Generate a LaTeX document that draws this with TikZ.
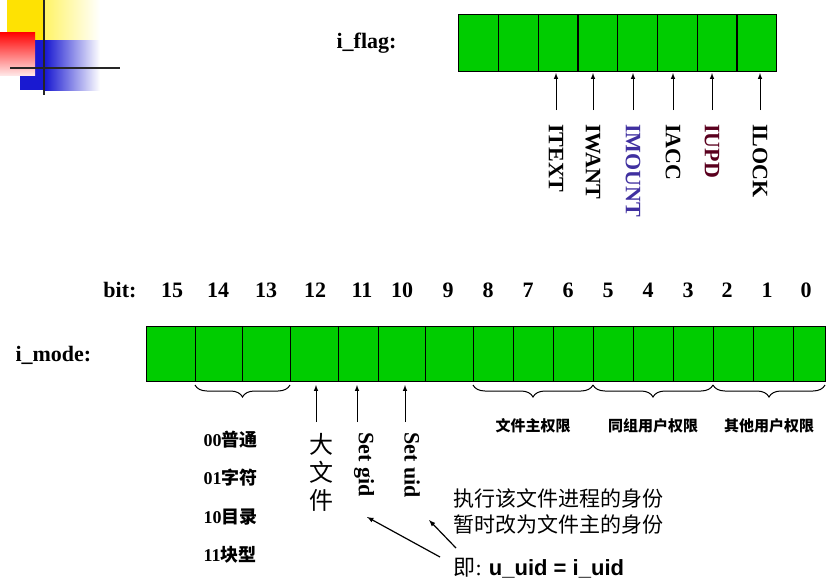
\documentclass[tikz,border=0pt]{standalone}
\usepackage{fontspec}
\setmainfont{Liberation Serif}
\newfontfamily\cjk{Noto Sans CJK SC}
\newfontfamily\sanss{Liberation Sans}
\usetikzlibrary{decorations.pathreplacing}
\definecolor{cellgreen}{RGB}{0,204,0}
\definecolor{imount}{RGB}{64,48,160}
\definecolor{iupd}{RGB}{90,0,30}
\tikzset{
  cell/.style={draw=black,line width=1.4pt,fill=cellgreen,minimum height=55pt,inner sep=0pt,anchor=south west},
  fcell/.style={draw=black,line width=1.4pt,fill=cellgreen,minimum height=57pt,minimum width=39.75pt,inner sep=0pt,anchor=south west},
  bitlab/.style={font=\bfseries\fontsize{22}{24}\selectfont},
  vlab/.style={font=\bfseries\fontsize{22}{24}\selectfont,rotate=-90,anchor=west,inner sep=0pt},
  up/.style={-latex,line width=1pt},
  brc/.style={decorate,decoration={brace,mirror,amplitude=12pt},line width=1pt},
  cn/.style={font=\cjk\bfseries\fontsize{15}{17}\selectfont},
  big/.style={font=\cjk\fontsize{21}{26}\selectfont,align=left,anchor=west}
}
\begin{document}
\begin{tikzpicture}[x=1pt,y=-1pt]
\useasboundingbox (0,0) rectangle (831,582);
% logo
\shade[left color=yellow!85!orange,right color=white] (7,0) rectangle (100,40);
\fill[yellow!85!orange] (7,0) rectangle (45,40);
\shade[left color=blue!80!black!90,right color=white] (45,40) rectangle (100,90);
\fill[blue!80!black!90] (20,40) rectangle (45,90);
\shade[top color=red,bottom color=red!10] (0,32) rectangle (35,75);
\draw[line width=2pt,black!85] (44,0) -- (44,95);
\draw[line width=2pt,black!85] (10,68) -- (120,68);
% i_flag
\node[bitlab,anchor=east] (flaglab) at (400,43) {i\_flag:};
\foreach \i in {0,...,7}{
  \node[fcell] (f\i) at ({458+39.75*\i},72) {};
}
\foreach \c/\x/\t/\col in {2/556/ITEXT/black,3/593/IWANT/black,4/633/IMOUNT/imount,5/673/IACC/black,6/712/IUPD/iupd,7/760/ILOCK/black}{
  \coordinate (fa\c) at (\x,110);
  \draw[up] (fa\c) -- (\x,73);
  \node[vlab,text=\col] (ft\c) at (\x,124) {\t};
}
% bits
\node[bitlab,anchor=east] (bitw) at (140,290) {bit:};
\foreach \b/\x in {15/172,14/218,13/266,12/315,11/362,10/402,9/448,8/488,7/528,6/568,5/608,4/648,3/688,2/727,1/767,0/806}{
  \node[bitlab] (b\b) at (\x,290) {\b};
}
\node[bitlab,anchor=west] (modelab) at (12,355) {i\_mode:};
\foreach \i/\a/\w in {0/146/49,1/195/47,2/242/48,3/290/48,4/338/40,5/378/47,6/425/48,7/473/40,8/513/40,9/553/40,10/593/40,11/633/40,12/673/40,13/713/40,14/753/40,15/793/32}{
  \node[cell,minimum width=\w pt] (m\i) at (\a,382) {};
}
% braces
\draw[brc] (195,385) -- (290,385);
\draw[brc] (473,385) -- (593,385);
\draw[brc] (593,385) -- (713,385);
\draw[brc] (713,385) -- (825,385);
\node[cn] (p1) at (533,426) {文件主权限};
\node[cn] (p2) at (653,426) {同组用户权限};
\node[cn] (p3) at (769,426) {其他用户权限};
% types
\node[font=\bfseries\fontsize{18}{20}\selectfont,anchor=west] (t0) at (200,440) {00{\cjk 普通}};
\node[font=\bfseries\fontsize{18}{20}\selectfont,anchor=west] (t1) at (200,478) {01{\cjk 字符}};
\node[font=\bfseries\fontsize{18}{20}\selectfont,anchor=west] (t2) at (200,517) {10{\cjk 目录}};
\node[font=\bfseries\fontsize{18}{20}\selectfont,anchor=west] (t3) at (200,555) {11{\cjk 块型}};
% arrows
\coordinate (a12) at (316,422);
\draw[up] (a12) -- (316,385);
\coordinate (a11) at (357,422);
\draw[up] (a11) -- (357,385);
\coordinate (a10) at (405,422);
\draw[up] (a10) -- (405,385);
\node[font=\cjk\fontsize{24}{28}\selectfont,align=center,anchor=north] (big) at (321,430) {大\\文\\件};
\node[vlab] (sgid) at (364,432) {Set gid};
\node[vlab] (suid) at (412,432) {Set uid};
\node[big] (exp) at (450,512) {执行该文件进程的身份\\暂时改为文件主的身份};
\node[anchor=west,font=\fontsize{22}{24}\selectfont] (ie) at (450,568) {{\cjk 即}: {\sanss\bfseries u\_uid = i\_uid}};
\coordinate (s1) at (440,557);
\coordinate (s2) at (456,548);
\draw[-latex,line width=1.2pt] (s1) -- (367,517);
\draw[-latex,line width=1.2pt] (s2) -- (429,520);
\end{tikzpicture}
\end{document}
